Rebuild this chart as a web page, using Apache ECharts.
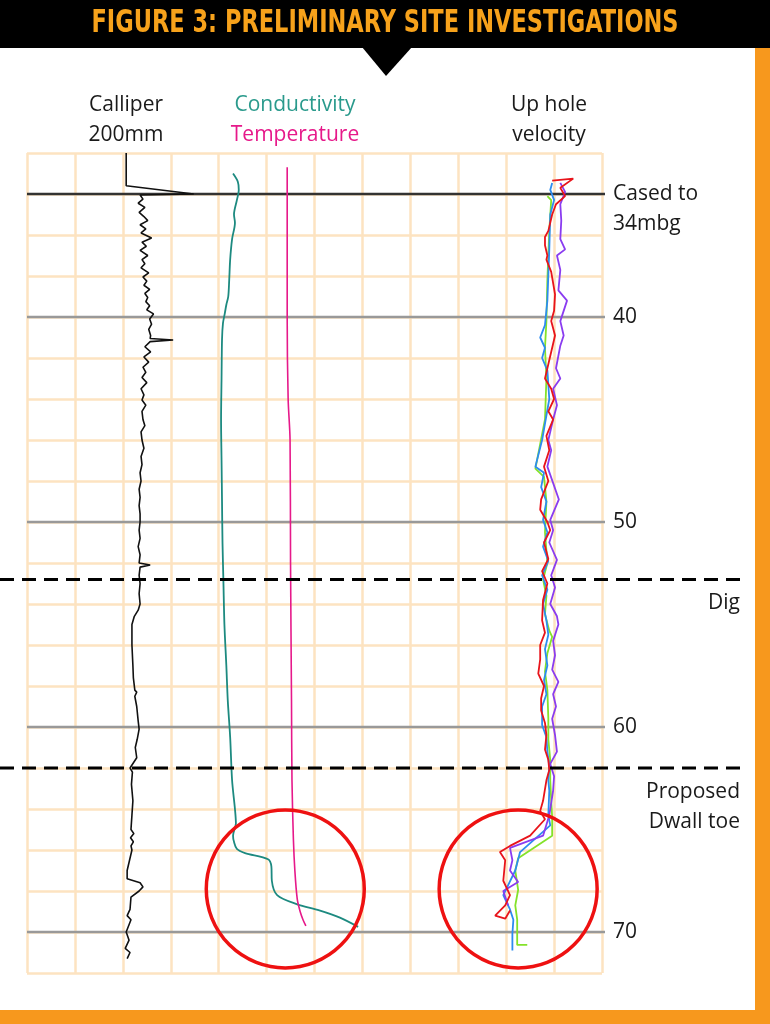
<!DOCTYPE html>
<html>
<head>
<meta charset="utf-8">
<script src="https://cdn.jsdelivr.net/npm/echarts@6.0.0/dist/echarts.min.js"></script>
<style>
html, body { margin: 0; padding: 0; background: #fff; }
#chart { width: 770px; height: 1024px; }
</style>
</head>
<body>
<div id="chart"></div>
<script>
// depth axis (m below ground) and track titles
var depthTicks = [40, 50, 60, 70];
var casedDepth = 34;
var markerDepths = [52.8, 62.0];
var markerLabels = ['Dig', 'Proposed\nDwall toe'];

// [track value, depth] pairs, track units 0-120 across the log sheet
var calliper = [[20.7,32.0],[20.7,33.6],[34.8,34.0],[23.6,34.05],[24.2,34.25],[23.2,34.45],[24.6,34.65],[23.4,34.9],[24.4,35.1],[25.2,35.3],[23.6,35.5],[24.8,35.7],[23.8,35.9],[26.0,36.15],[24.0,36.35],[24.9,36.55],[23.6,36.75],[25.2,37.0],[24.0,37.2],[24.6,37.4],[23.8,37.6],[25.4,37.85],[24.2,38.05],[25.0,38.25],[24.4,38.45],[25.6,38.65],[24.6,38.85],[25.2,39.05],[24.8,39.25],[25.6,39.45],[25.0,39.65],[26.4,39.85],[25.6,40.1],[26.0,40.35],[25.4,40.6],[25.8,40.9],[25.7,41.05],[30.5,41.12],[25.7,41.2],[24.6,41.45],[25.8,41.7],[24.4,41.95],[25.4,42.2],[24.2,42.45],[24.8,42.7],[24.0,42.95],[25.0,43.2],[23.8,43.5],[24.4,43.8],[24.0,44.05],[24.8,44.3],[24.0,44.6],[24.2,45.0],[24.6,45.3],[23.8,45.6],[24.0,46.0],[24.4,46.4],[23.8,46.8],[24.0,47.2],[23.6,47.6],[23.8,48.0],[23.4,48.4],[23.6,48.8],[23.4,49.2],[23.6,49.6],[23.6,50.0],[23.4,50.4],[23.6,50.8],[23.2,51.2],[23.6,51.6],[23.4,52.0],[25.7,52.1],[23.6,52.2],[23.4,52.6],[23.6,53.0],[23.4,53.5],[23.6,54.0],[23.2,54.3],[22.4,54.6],[21.9,55.0],[21.9,56.0],[22.1,57.0],[22.2,57.6],[22.5,58.2],[22.9,58.3],[22.5,58.5],[22.9,59.0],[23.2,59.7],[23.4,60.1],[23.0,60.6],[22.6,61.0],[22.9,61.5],[21.5,62.0],[22.0,62.2],[21.8,62.8],[22.1,63.6],[21.9,64.3],[21.7,65.0],[22.3,65.2],[21.6,65.4],[22.2,65.6],[21.7,65.8],[21.9,66.0],[21.4,66.5],[20.9,67.0],[20.9,67.4],[23.6,67.6],[24.2,67.8],[23.4,68.0],[21.7,68.3],[21.5,68.9],[20.9,69.2],[21.7,69.4],[20.7,70.0],[21.3,70.4],[20.5,70.8],[21.5,71.0],[20.9,71.3]];

var conductivity = [[43.0,33.0],[44.0,33.4],[44.2,33.8],[43.8,34.3],[43.2,35.0],[43.4,35.4],[42.8,36.2],[42.4,37.2],[42.2,38.2],[42.0,39.0],[41.6,39.4],[41.3,39.8],[40.9,40.3],[40.7,41.1],[40.6,43.0],[40.5,45.0],[40.6,47.0],[40.7,49.0],[40.8,51.0],[41.0,53.0],[41.2,55.0],[41.6,57.0],[41.9,58.7],[42.4,60.5],[42.8,62.6],[43.4,64.0],[43.6,64.7],[43.0,65.3],[43.2,65.6],[43.8,65.95],[45.5,66.15],[50.3,66.45],[51.0,66.8],[51.1,67.5],[52.2,68.2],[56.4,68.65],[61.0,68.95],[65.3,69.3],[69.1,69.75]];

var temperature = [[54.3,32.7],[54.3,40.0],[54.5,44.0],[54.9,46.0],[55.0,52.0],[55.2,58.7],[55.3,62.6],[55.6,65.5],[55.9,67.0],[56.4,68.4],[57.0,69.0],[57.6,69.4],[58.2,69.7]];

var velocityRed = [[109.6,33.35],[114.0,33.25],[111.3,33.7],[112.3,34.1],[110.4,34.5],[109.6,35.0],[108.8,35.8],[108.1,36.1],[108.1,36.5],[108.6,37.0],[108.4,37.2],[109.4,37.8],[110.2,38.9],[110.0,39.7],[109.4,40.2],[110.2,40.9],[108.1,43.0],[109.4,43.5],[110.0,44.0],[108.8,44.6],[109.8,45.0],[108.4,45.8],[109.0,46.5],[107.9,47.3],[108.8,48.0],[107.3,48.9],[107.1,49.4],[108.6,50.0],[109.2,50.4],[107.9,51.0],[108.8,51.8],[107.5,52.4],[108.6,53.0],[107.7,53.8],[107.5,54.8],[108.1,55.4],[107.1,56.0],[107.1,56.7],[106.7,57.4],[107.9,58.0],[107.3,58.6],[107.3,59.2],[108.1,59.8],[108.4,60.4],[108.1,61.1],[108.8,61.6],[109.0,62.1],[108.4,62.6],[107.7,63.6],[107.1,64.1],[108.1,64.5],[105.0,65.3],[100.8,65.8],[98.7,66.1],[99.8,66.5],[99.4,67.5],[100.8,68.2],[99.8,68.7],[97.7,69.2],[99.8,69.35],[100.8,68.95]];

var velocityPurple = [[111.3,33.46],[112.3,33.9],[111.3,34.5],[111.5,35.3],[111.3,36.2],[112.3,36.7],[110.6,37.0],[111.3,37.7],[110.9,38.7],[112.7,39.2],[111.3,40.2],[112.0,40.9],[111.3,41.4],[110.4,42.5],[111.3,43.0],[109.8,43.5],[110.6,44.3],[109.8,45.0],[108.8,46.0],[109.4,46.5],[108.6,47.3],[111.0,48.9],[109.2,49.9],[109.8,50.4],[109.0,51.0],[110.6,51.85],[109.4,52.6],[110.2,53.2],[109.2,54.0],[110.6,54.6],[110.9,55.0],[109.8,55.8],[110.2,56.5],[109.6,57.2],[110.9,57.8],[109.8,58.4],[110.4,59.0],[109.6,59.6],[110.2,60.4],[110.6,61.2],[109.2,61.8],[110.0,62.4],[109.8,63.1],[109.2,64.0],[109.0,64.3],[107.7,65.3],[100.8,65.9],[101.3,66.5],[100.8,67.0],[102.5,67.56],[99.4,68.0],[100.4,68.7]];

var velocityBlue = [[109.6,33.46],[109.2,33.8],[110.0,34.29],[109.2,35.0],[109.0,36.7],[108.6,39.2],[108.1,40.4],[107.1,41.0],[108.1,41.5],[107.5,42.0],[108.6,42.6],[109.0,44.0],[107.5,46.0],[106.1,47.3],[107.9,47.6],[107.3,48.3],[108.4,49.0],[107.7,49.9],[108.6,50.5],[107.7,51.2],[108.8,51.9],[107.5,52.6],[108.6,53.3],[107.7,54.0],[108.4,54.8],[108.8,55.5],[108.1,56.2],[108.6,57.0],[107.9,57.7],[108.4,58.4],[107.5,59.0],[107.5,59.9],[108.4,60.5],[108.6,61.2],[109.0,61.9],[108.8,62.6],[109.0,63.1],[108.8,64.3],[109.2,64.8],[102.9,66.1],[101.9,67.0],[99.4,68.2],[100.8,68.9],[101.5,69.4],[101.3,70.1],[101.3,70.9]];

var velocityGreen = [[108.6,34.1],[109.4,34.3],[109.0,35.8],[108.6,38.2],[108.4,40.2],[108.1,41.5],[108.4,43.0],[108.1,45.0],[106.1,47.4],[107.9,47.8],[108.4,49.0],[108.1,50.5],[108.6,52.0],[107.7,52.8],[108.4,53.6],[108.1,54.5],[109.0,55.3],[109.6,55.6],[108.6,56.4],[108.1,57.3],[108.6,58.2],[108.8,59.6],[108.8,60.6],[109.2,61.6],[109.2,62.6],[109.4,63.6],[109.6,64.4],[109.6,65.3],[102.5,66.4],[101.9,67.0],[102.5,67.95],[101.9,68.7],[102.3,69.4],[102.3,70.0],[102.3,70.63],[104.4,70.63]];

// highlighted zones (circled in red)
var circled = [[53.9, 67.9], [102.5, 67.9]];

var ORANGE = '#f7981d';
var PEACH = '#fde3c1';
var FONT = '"Open Sans"';

var chart = echarts.init(document.getElementById('chart'));

function logLine(name, data, color, width, smooth) {
    return {
        name: name,
        type: 'line',
        data: data,
        showSymbol: false,
        smooth: smooth || false,
        silent: true,
        z: 3,
        lineStyle: { color: color, width: width }
    };
}

chart.setOption({
    animation: false,
    backgroundColor: '#fff',
    grid: { left: 27, right: 168, top: 153, bottom: 51 },
    xAxis: {
        type: 'value', min: 0, max: 120, interval: 10,
        axisLine: { show: false }, axisTick: { show: false }, axisLabel: { show: false },
        splitLine: { show: true, lineStyle: { color: PEACH, width: 2.5 } }
    },
    yAxis: {
        type: 'value', inverse: true, min: 32, max: 72, interval: 2,
        axisLine: { show: false }, axisTick: { show: false }, axisLabel: { show: false },
        splitLine: { show: true, lineStyle: { color: PEACH, width: 2.5 } }
    },
    series: [
        logLine('Calliper', calliper, '#111', 1.6),
        logLine('Conductivity', conductivity, '#1d8a80', 1.8, 0.3),
        logLine('Temperature', temperature, '#e6198a', 1.6, 0.3),
        logLine('Velocity 1', velocityGreen, '#84e22a', 1.8),
        logLine('Velocity 2', velocityBlue, '#2d8cf0', 1.8),
        logLine('Velocity 3', velocityPurple, '#8a3cf0', 1.8),
        logLine('Velocity 4', velocityRed, '#e8141b', 1.8),
        {
            type: 'scatter',
            data: circled,
            symbol: 'circle',
            symbolSize: 158,
            silent: true,
            z: 4,
            itemStyle: { color: 'rgba(0,0,0,0)', borderColor: '#ee1111', borderWidth: 3.5, opacity: 1 }
        }
    ]
});

function py(d) { return chart.convertToPixel({ yAxisIndex: 0 }, d); }
var gx0 = chart.convertToPixel({ xAxisIndex: 0 }, 0);
var gx1 = chart.convertToPixel({ xAxisIndex: 0 }, 120);

function txt(x, y, s, color, align, vAlign) {
    return {
        type: 'text', x: x, y: y, z: 10,
        style: {
            text: s, fill: color, font: '21px ' + FONT,
            textAlign: align, align: align,
            textVerticalAlign: vAlign, verticalAlign: vAlign,
            lineHeight: 30
        }
    };
}

var g = [];
// header bar
g.push({ type: 'rect', shape: { x: 0, y: 0, width: 770, height: 48 }, style: { fill: '#000' }, z: 5 });
g.push({ type: 'polygon', shape: { points: [[362, 47], [412, 47], [386, 76]] }, style: { fill: '#000' }, z: 5 });
g.push({
    type: 'text', x: 385, y: 24, scaleY: 1.25, z: 6,
    style: {
        text: 'FIGURE 3: PRELIMINARY SITE INVESTIGATIONS', fill: '#f7a21b',
        font: 'bold 25px "DejaVu Sans Condensed"',
        textAlign: 'center', align: 'center', textVerticalAlign: 'middle', verticalAlign: 'middle'
    }
});
// orange frame
g.push({ type: 'rect', shape: { x: 755, y: 48, width: 15, height: 976 }, style: { fill: ORANGE }, z: 5 });
g.push({ type: 'rect', shape: { x: 0, y: 1010, width: 770, height: 14 }, style: { fill: ORANGE }, z: 5 });

// track titles
g.push(txt(126, 105, 'Calliper', '#1a1a1a', 'center', 'middle'));
g.push(txt(126, 135, '200mm', '#1a1a1a', 'center', 'middle'));
g.push(txt(295, 105, 'Conductivity', '#2a9a8c', 'center', 'middle'));
g.push(txt(295, 135, 'Temperature', '#e6198a', 'center', 'middle'));
g.push(txt(549, 105, 'Up hole', '#1a1a1a', 'center', 'middle'));
g.push(txt(549, 135, 'velocity', '#1a1a1a', 'center', 'middle'));

// casing line + depth lines
g.push({ type: 'line', z: 2, shape: { x1: gx0, y1: py(casedDepth), x2: gx1 + 3, y2: py(casedDepth) }, style: { stroke: '#333', lineWidth: 2.5 } });
g.push(txt(gx1 + 11, py(casedDepth) - 15, 'Cased to\n34mbg', '#1a1a1a', 'left', 'top'));
depthTicks.forEach(function (d) {
    g.push({ type: 'line', z: 2, shape: { x1: gx0, y1: py(d), x2: gx1 + 3, y2: py(d) }, style: { stroke: '#999', lineWidth: 2.5 } });
    g.push(txt(gx1 + 11, py(d), String(d), '#1a1a1a', 'left', 'middle'));
});

// dig level and proposed wall toe
markerDepths.forEach(function (d, i) {
    g.push({ type: 'line', z: 6, shape: { x1: 0, y1: py(d), x2: 740, y2: py(d) }, style: { stroke: '#000', lineWidth: 3, lineDash: [14, 8] } });
    g.push(txt(740, py(d) + 9, markerLabels[i], '#1a1a1a', 'right', 'top'));
});

chart.setOption({ graphic: g });
</script>
</body>
</html>
